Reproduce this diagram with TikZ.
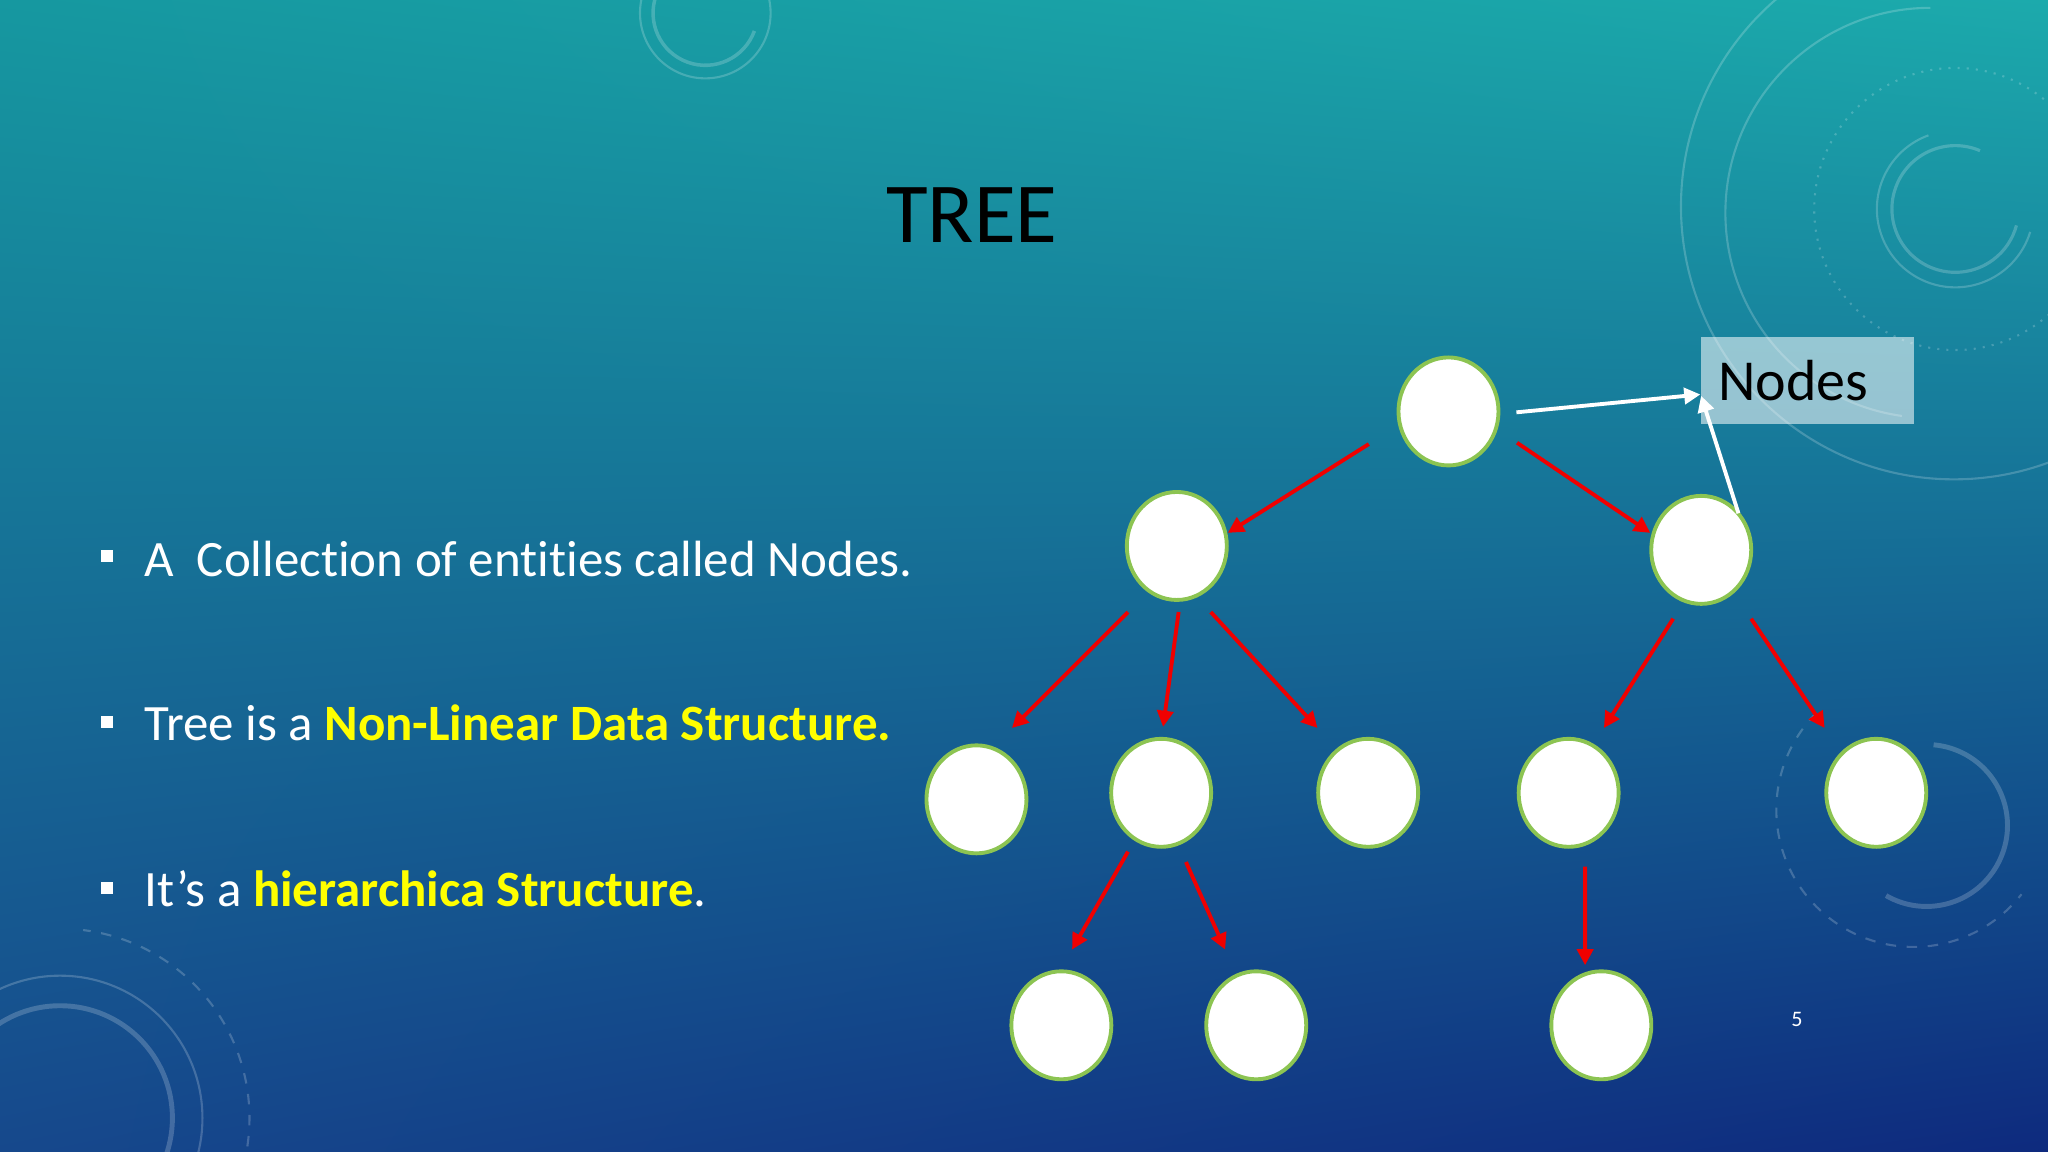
\documentclass[tikz,border=0pt]{standalone}
\usepackage{fontspec}
\setmainfont{Carlito}[Ligatures={NoCommon,NoContextual}]
\usetikzlibrary{shapes.geometric,arrows.meta,calc,shadings}
\definecolor{nodegreen}{RGB}{140,196,82}
\definecolor{arrred}{RGB}{240,0,0}
\definecolor{hl}{RGB}{255,255,0}
\definecolor{bgUL}{RGB}{22,152,160}
\definecolor{bgUR}{RGB}{28,170,172}
\definecolor{bgLL}{RGB}{22,72,140}
\definecolor{bgLR}{RGB}{14,42,126}
\begin{document}
\begin{tikzpicture}[x=0.013061cm,y=-0.013061cm,
  tn/.style={ellipse, draw=nodegreen, line width=1.1pt, fill=white,
    minimum width=1.0cm, minimum height=1.08cm, inner sep=0pt},
  redarr/.style={draw=arrred, line width=1.1pt, -{Triangle[length=4.6pt,width=4.6pt]}},
  whitearr/.style={draw=white, line width=1.1pt, -{Triangle[length=4.6pt,width=4.6pt]}},
  deco/.style={draw=white, draw opacity=0.2, line width=0.6pt},
  bul/.style={rectangle, fill=white, minimum size=3.4pt, inner sep=0pt},
  btext/.style={anchor=base west, text=white, inner sep=0pt,
    font=\fontsize{14.5}{17}\selectfont},
]
\useasboundingbox (0,0) rectangle (1568,882);
\clip (0,0) rectangle (1568,882);
\shade[upper left=bgUL, upper right=bgUR, lower left=bgLL, lower right=bgLR]
  (0,0) rectangle (1568,882);

% background decorations
\draw[deco] (1496,158) circle[radius=209];
\draw[deco] (1478,163) ++(-90:157) arc[start angle=-90, end angle=-262, radius=157];
\draw[deco, dotted] (1497,160) circle[radius=108];
\draw[deco, line width=0.9pt] (1497,160) ++(-67:48.5) arc[start angle=-67, end angle=-345, radius=48.5];
\draw[deco] (1497,160) ++(-110:60) arc[start angle=-110, end angle=-343, radius=60];
\draw[deco, line width=1.4pt] (46,856) circle[radius=86];
\draw[deco] (46,856) circle[radius=109];
\draw[deco, dashed] (46,856) ++(15:145) arc[start angle=15, end angle=-83, radius=145];
\draw[deco, dashed] (1465,620) ++(-135:105) arc[start angle=-135, end angle=-322, radius=105];
\draw[deco, line width=1.4pt] (1475,632) ++(120:62) arc[start angle=120, end angle=-85, radius=62];
\draw[deco] (540,10) circle[radius=50];
\draw[deco, line width=1pt] (540,10) ++(20:40) arc[start angle=20, end angle=200, radius=40];

% title and text
\node[anchor=base west, inner sep=0pt, text=black, font=\fontsize{24.3}{28}\selectfont] (title) at (678,186) {TREE};

\node[bul] (b1) at (82,426) {};
\node[bul] (b2) at (82,553) {};
\node[bul] (b3) at (82,680) {};
\node[btext] (t1) at (110,441) {A\ \ Collection of entities called Nodes.};
\node[btext] (t2) at (110,567) {Tree is a \textbf{\color{hl}Non-Linear Data Structure.}};
\node[btext] (t3) at (110,694) {It’s a \textbf{\color{hl}hierarchica Structure}.};

\node[anchor=base west, inner sep=0pt, text=white, font=\fontsize{6.3}{7}\selectfont] (pg) at (1371,785.6) {5};

% label box
\node[rectangle, fill=white, fill opacity=0.55, minimum width=2.129cm, minimum height=0.869cm, inner sep=0pt] (box) at (1383.9,291.5) {};
\node[anchor=base west, inner sep=0pt, text=black, font=\fontsize{16.5}{19}\selectfont] (lbl) at (1315,306.3) {Nodes};

% tree nodes
\node[tn] (root) at (1109,315) {};
\node[tn] (l1a) at (901,418) {};
\node[tn] (l1b) at (1302.5,421) {};
\node[tn] (l2a) at (747.6,612) {};
\node[tn] (l2b) at (889,607) {};
\node[tn] (l2c) at (1047.5,607) {};
\node[tn] (l2d) at (1201,607) {};
\node[tn] (l2e) at (1436.5,607) {};
\node[tn] (l3a) at (812.6,785) {};
\node[tn] (l3b) at (961.8,785) {};
\node[tn] (l3c) at (1226,785) {};

% red connectors
\draw[redarr] ($(root)+(-61,25)$) -- ($(l1a)+(39,-10)$);
\draw[redarr] ($(root)+(52.5,24)$) -- ($(l1b)+(-39,-13)$);
\draw[redarr] ($(l1a)+(-37.4,50.6)$) -- ($(l2a)+(27.2,-54.6)$);
\draw[redarr] ($(l1a)+(1.4,50.6)$) -- ($(l2b)+(1.5,-50.5)$);
\draw[redarr] ($(l1a)+(26,50.6)$) -- ($(l2c)+(-38.8,-49.6)$);
\draw[redarr] ($(l1b)+(-21.5,52.7)$) -- ($(l2d)+(27,-49.6)$);
\draw[redarr] ($(l1b)+(38.2,52.7)$) -- ($(l2e)+(-39.5,-49.6)$);
\draw[redarr] ($(l2b)+(-25.4,45)$) -- ($(l3a)+(8.2,-58)$);
\draw[redarr] ($(l2b)+(19,53)$) -- ($(l3b)+(-23.8,-58)$);
\draw[redarr] ($(l2d)+(12.6,56.5)$) -- ($(l3c)+(-12.4,-46)$);

% white connectors to label
\draw[whitearr] ($(root)+(52,0.7)$) -- ($(box.west)+(0,10.5)$);
\draw[whitearr] ($(l1b)+(28.5,-28)$) -- ($(box.west)+(0.5,11.5)$);
\end{tikzpicture}
\end{document}
